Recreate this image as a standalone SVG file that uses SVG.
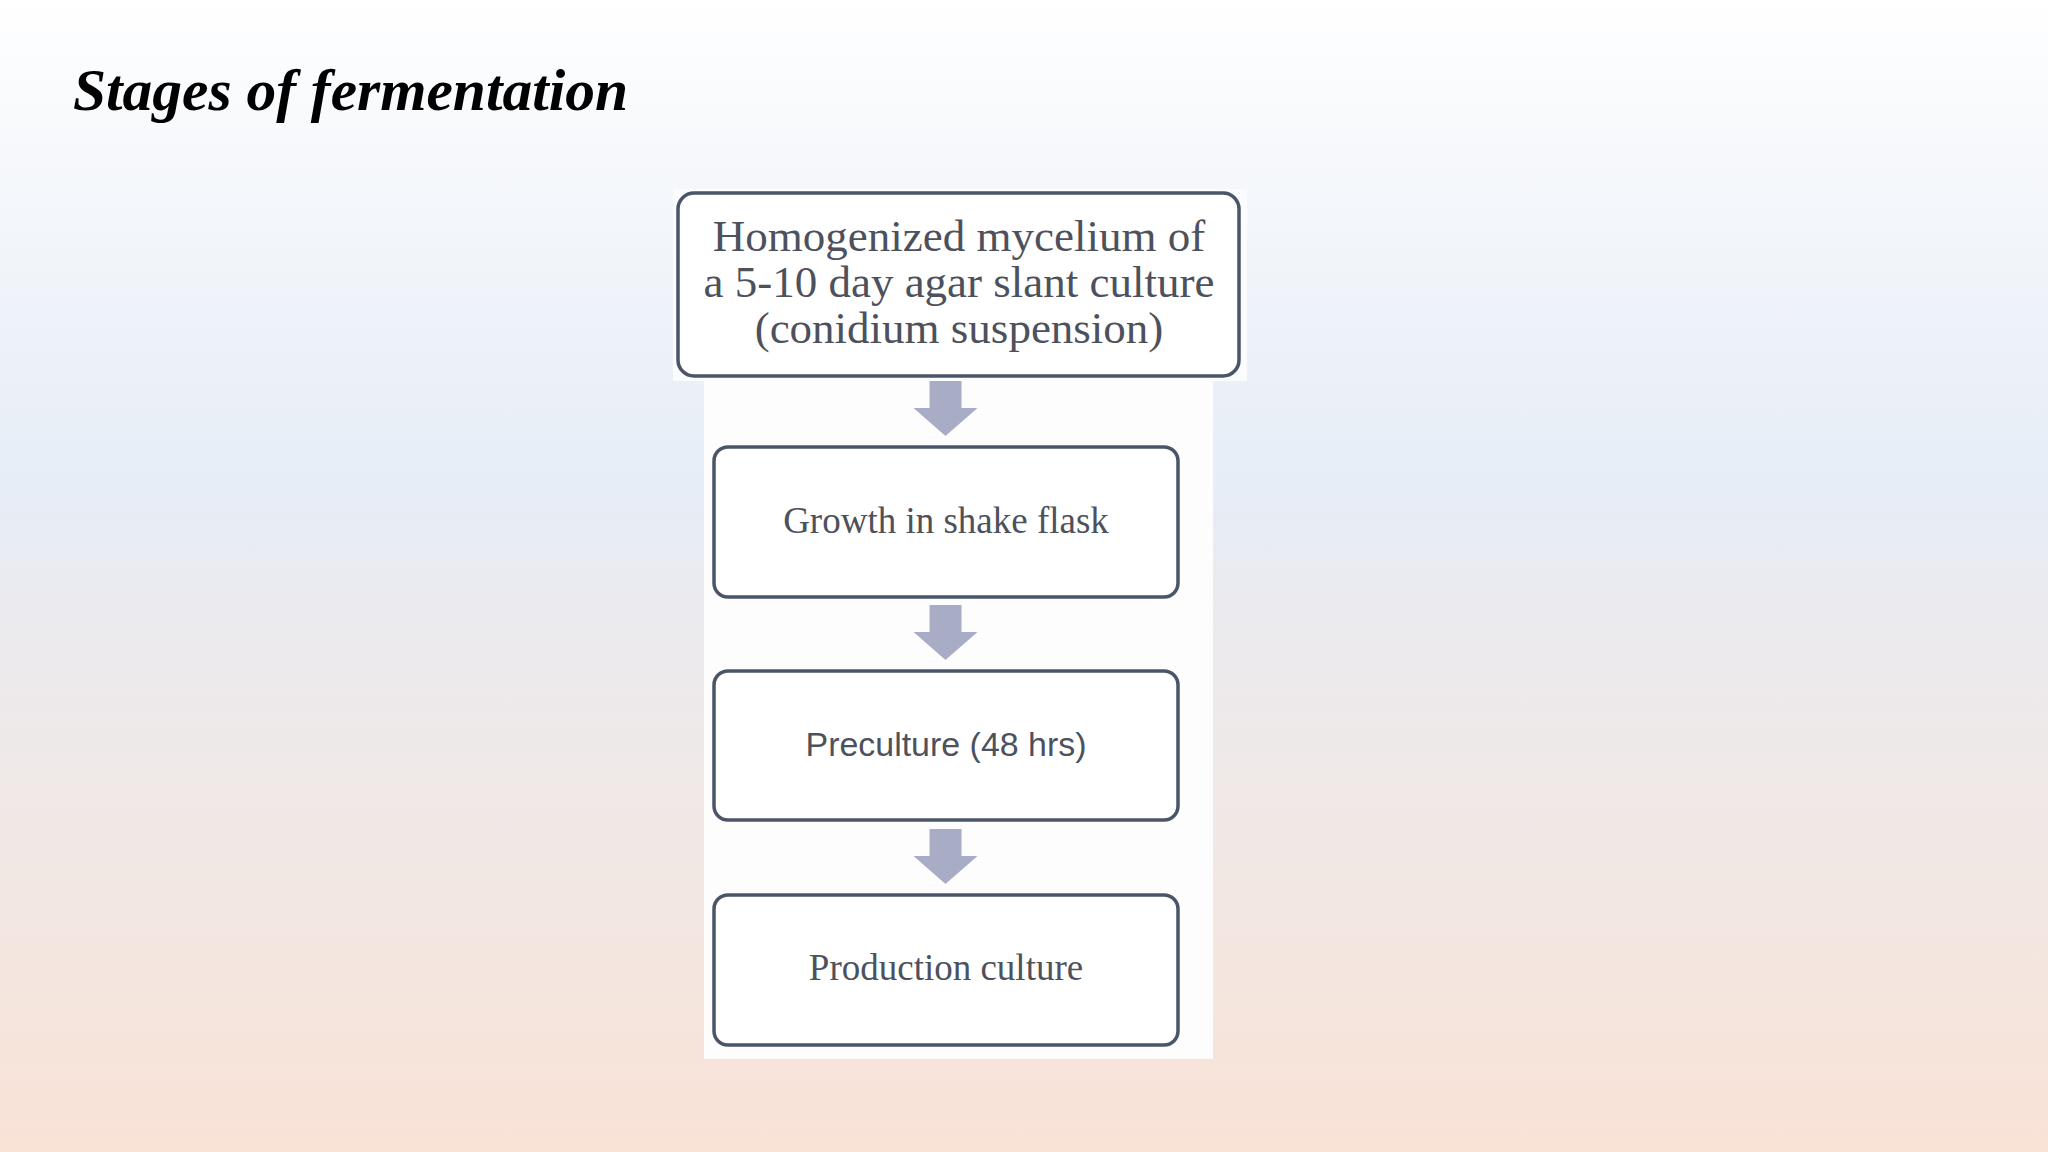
<svg xmlns="http://www.w3.org/2000/svg" width="2048" height="1152" viewBox="0 0 2048 1152">
<defs>
<linearGradient id="bg" x1="0" y1="0" x2="0" y2="1">
<stop offset="0" stop-color="#ffffff"/>
<stop offset="0.12" stop-color="#f7f9fc"/>
<stop offset="0.42" stop-color="#e6edf6"/>
<stop offset="0.56" stop-color="#eceaed"/>
<stop offset="0.75" stop-color="#f1e8e4"/>
<stop offset="1" stop-color="#f9e2d6"/>
</linearGradient>
<path id="arrow" d="M-16,0 H16 V27 H32 L0,55 L-32,27 H-16 Z" fill="#a9acc5"/>
</defs>
<style>
.box{fill:#ffffff;stroke:#4a5569;stroke-width:3.5}
.serif{font-family:"Liberation Serif","Times New Roman",serif;fill:#4d515c;text-anchor:middle}
.sans{font-family:"Liberation Sans",Arial,sans-serif;fill:#4d515c;text-anchor:middle}
</style>
<rect x="0" y="0" width="2048" height="1152" fill="url(#bg)"/>
<text x="73" y="110" font-family="'Liberation Serif','Times New Roman',serif" font-size="60" font-weight="bold" font-style="italic" fill="#000000" textLength="555" lengthAdjust="spacingAndGlyphs">Stages of fermentation</text>
<rect x="673" y="189" width="574" height="192" fill="#fbfcfd"/>
<rect x="704" y="379" width="509" height="680" fill="#fdfdfe"/>
<g id="connectors">
<use href="#arrow" x="945.5" y="381"/>
<use href="#arrow" x="945.5" y="605"/>
<use href="#arrow" x="945.5" y="829"/>
</g>
<g id="node1">
<rect class="box" x="678" y="193" width="561" height="183" rx="16"/>
<text class="serif" font-size="45" x="959" y="251">Homogenized mycelium of</text>
<text class="serif" font-size="45" x="959" y="297">a 5-10 day agar slant culture</text>
<text class="serif" font-size="45" x="959" y="343">(conidium suspension)</text>
</g>
<g id="node2">
<rect class="box" x="714" y="447" width="464" height="150" rx="14"/>
<text class="serif" font-size="37" x="946" y="533">Growth in shake flask</text>
</g>
<g id="node3">
<rect class="box" x="714" y="671" width="464" height="149" rx="14"/>
<text class="sans" font-size="34" x="946" y="756" textLength="281" lengthAdjust="spacingAndGlyphs">Preculture (48 hrs)</text>
</g>
<g id="node4">
<rect class="box" x="714" y="895" width="464" height="150" rx="14"/>
<text class="serif" font-size="37" x="946" y="980">Production culture</text>
</g>
</svg>
